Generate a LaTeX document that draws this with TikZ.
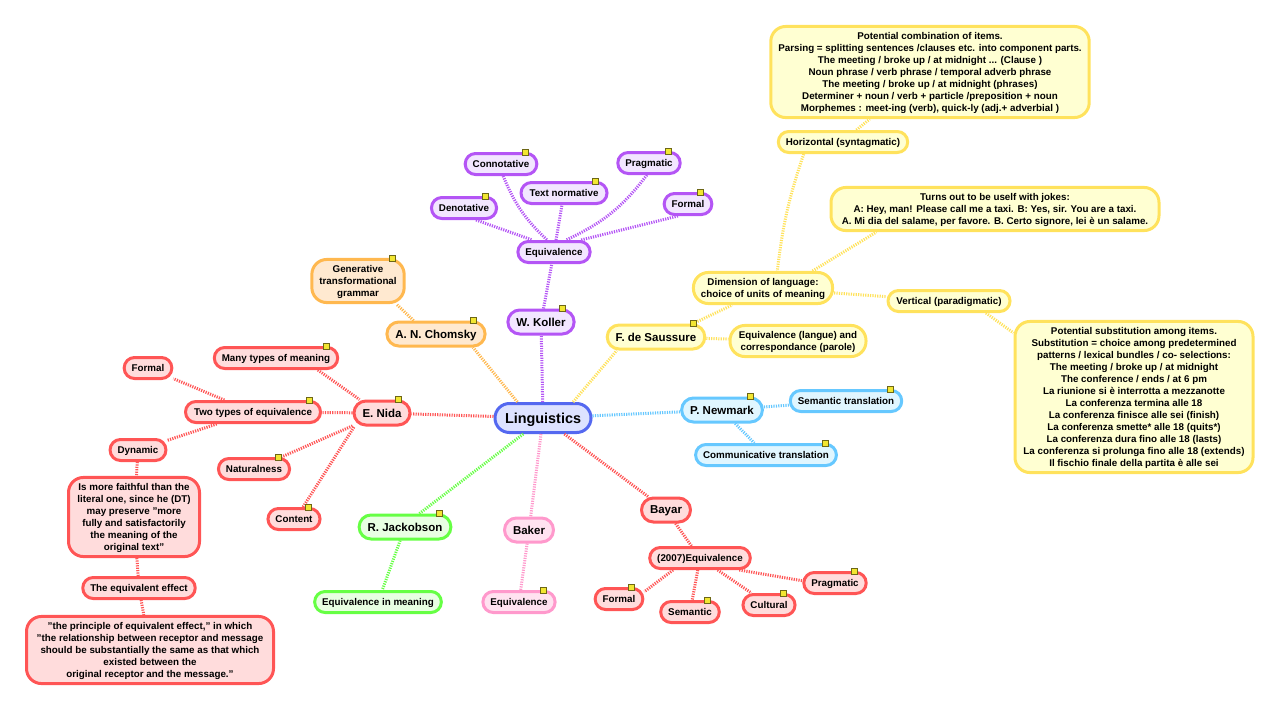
\documentclass[tikz,border=0pt]{standalone}
\usepackage{fontspec}
\setmainfont{Liberation Sans}
\usetikzlibrary{positioning}
\definecolor{rootLine}{HTML}{5468F0}
\definecolor{rootFill}{HTML}{DDE2FF}
\definecolor{kollerLine}{HTML}{B455F5}
\definecolor{kollerFill}{HTML}{F2E6FF}
\definecolor{chomskyLine}{HTML}{FFB84F}
\definecolor{chomskyFill}{HTML}{FFE9D0}
\definecolor{saussureLine}{HTML}{FFE25C}
\definecolor{saussureFill}{HTML}{FFFFD2}
\definecolor{newmarkLine}{HTML}{66C8FF}
\definecolor{newmarkFill}{HTML}{E0F6FF}
\definecolor{nidaLine}{HTML}{FF5555}
\definecolor{nidaFill}{HTML}{FFDCDC}
\definecolor{jackobsonLine}{HTML}{66FF44}
\definecolor{jackobsonFill}{HTML}{E8FFE2}
\definecolor{bakerLine}{HTML}{FF99CC}
\definecolor{bakerFill}{HTML}{FFE2F0}
\definecolor{flagFill}{HTML}{F2E632}
\tikzstyle{topic}=[
	rectangle,
	rounded corners=10.4pt,
	line width=3pt,
	text centered,
	align=center,
	text=black,
	inner xsep=7.5pt,
	inner ysep=6pt,
	minimum height=21pt,
	text depth=0pt,
	font=\bfseries\fontsize{9.8}{12}\selectfont
	]
\tikzstyle{note}=[topic, rounded corners=15pt]
\tikzstyle{major}=[topic, rounded corners=11.9pt, inner ysep=2pt, minimum height=24pt, inner xsep=8.5pt, font=\bfseries\fontsize{11.5}{13}\selectfont]
\tikzstyle{koller}=[draw=kollerLine, fill=kollerFill]
\tikzstyle{chomsky}=[draw=chomskyLine, fill=chomskyFill]
\tikzstyle{saussure}=[draw=saussureLine, fill=saussureFill]
\tikzstyle{newmark}=[draw=newmarkLine, fill=newmarkFill]
\tikzstyle{nida}=[draw=nidaLine, fill=nidaFill]
\tikzstyle{jackobson}=[draw=jackobsonLine, fill=jackobsonFill]
\tikzstyle{baker}=[draw=bakerLine, fill=bakerFill]
\tikzstyle{link}=[line width=3pt, dash pattern=on 1.2pt off 1.2pt]
\tikzstyle{flag}=[rectangle, draw=black!55!flagFill, fill=flagFill, line width=0.8pt, minimum size=6pt, inner sep=0pt]

\begin{document}
\begin{tikzpicture}[x=1pt, y=1pt, on grid]

		\useasboundingbox (0,0) rectangle (1280,-710);

		\node (Linguistics) [major, rounded corners=14.4pt, minimum height=29pt, inner xsep=10pt, draw=rootLine, fill=rootFill, font=\bfseries\fontsize{14.4}{16}\selectfont] at (543,-418) {Linguistics};

		\node (Koller) [major, koller, above left=96pt and 2pt of Linguistics] {W. Koller};
		\node (Chomsky) [major, chomsky, above left=84pt and 107pt of Linguistics] {A. N. Chomsky};
		\node (Saussure) [major, saussure, above right=81pt and 113pt of Linguistics] {F. de Saussure};
		\node (Newmark) [major, newmark, above right=8pt and 179pt of Linguistics] {P. Newmark};
		\node (Nida) [major, nida, above left=5pt and 161pt of Linguistics] {E. Nida};
		\node (Jackobson) [major, jackobson, below left=109pt and 138pt of Linguistics] {R. Jackobson};
		\node (Baker) [major, baker, below left=112pt and 14pt of Linguistics] {Baker};
		\node (Bayar) [major, nida, below right=92pt and 123pt of Linguistics] {Bayar};

		\node (KollerEquivalence) [topic, koller, above right=70pt and 13pt of Koller] {Equivalence};
		\node (Denotative) [topic, koller, above left=44pt and 90pt of KollerEquivalence] {Denotative};
		\node (Connotative) [topic, koller, above left=88pt and 53pt of KollerEquivalence] {Connotative};
		\node (TextNormative) [topic, koller, minimum width=86pt, above right=59pt and 10pt of KollerEquivalence] {Text normative};
		\node (KollerPragmatic) [topic, koller, above right=89pt and 95pt of KollerEquivalence] {Pragmatic};
		\node (KollerFormal) [topic, koller, above right=48pt and 134pt of KollerEquivalence] {Formal};

		\node (Generative) [note, chomsky, above left=53pt and 78pt of Chomsky] {Generative\\transformational\\grammar};

		\node (Dimension) [note, saussure, above right=49pt and 107pt of Saussure] {Dimension of language:\\choice of units of meaning};
		\node (Langue) [note, saussure, minimum width=136pt, below right=4pt and 142pt of Saussure] {Equivalence (langue) and\\correspondance (parole)};
		\node (Horizontal) [topic, saussure, above right=146pt and 80pt of Dimension] {Horizontal (syntagmatic)};
		\node (Jokes) [note, saussure, minimum width=328pt, above right=79pt and 232pt of Dimension] {
			Turns out to be uself with jokes:\\
			A: Hey, man! Please call me a taxi. B: Yes, sir. You are a taxi.\\
			A. Mi dia del salame, per favore. B. Certo signore, lei è un salame.
		};
		\node (Vertical) [topic, saussure, minimum width=122pt, below right=13pt and 186pt of Dimension] {Vertical (paradigmatic)};
		\node (Combination) [note, saussure, above right=70pt and 87pt of Horizontal] {
			Potential combination of items.\\
			Parsing = splitting sentences /clauses etc. into component parts.\\
			The meeting / broke up / at midnight ... (Clause )\\
			Noun phrase / verb phrase / temporal adverb phrase\\
			The meeting / broke up / at midnight (phrases)\\
			Determiner + noun / verb + particle /preposition + noun\\
			Morphemes : meet-ing (verb), quick-ly (adj.+ adverbial )
		};
		\node (Substitution) [note, saussure, minimum width=238pt, below right=96pt and 185pt of Vertical] {
			Potential substitution among items.\\
			Substitution = choice among predetermined\\
			patterns / lexical bundles / co- selections:\\
			The meeting / broke up / at midnight\\
			The conference / ends / at 6 pm\\
			La riunione si è interrotta a mezzanotte\\
			La conferenza termina alle 18\\
			La conferenza finisce alle sei (finish)\\
			La conferenza smette* alle 18 (quits*)\\
			La conferenza dura fino alle 18 (lasts)\\
			La conferenza si prolunga fino alle 18 (extends)\\
			Il fischio finale della partita è alle sei
		};

		\node (SemanticTranslation) [topic, newmark, above right=9pt and 124pt of Newmark] {Semantic translation};
		\node (CommunicativeTranslation) [topic, newmark, below right=45pt and 44pt of Newmark] {Communicative translation};

		\node (ManyTypes) [topic, nida, above left=55pt and 106pt of Nida] {Many types of meaning};
		\node (TwoTypes) [topic, nida, minimum width=135pt, above left=1pt and 129pt of Nida] {Two types of equivalence};
		\node (Naturalness) [topic, nida, below left=56pt and 128pt of Nida] {Naturalness};
		\node (Content) [topic, nida, below left=106pt and 88pt of Nida] {Content};
		\node (NidaFormal) [topic, nida, above left=44pt and 105pt of TwoTypes] {Formal};
		\node (Dynamic) [topic, nida, below left=38pt and 115pt of TwoTypes] {Dynamic};
		\node (Faithful) [note, nida, minimum width=131pt, below left=67pt and 4pt of Dynamic] {
			Is more faithful than the\\
			literal one, since he (DT)\\
			may preserve "more\\
			fully and satisfactorily\\
			the meaning of the\\
			original text"
		};
		\node (EquivalentEffect) [topic, nida, below right=71pt and 5pt of Faithful] {The equivalent effect};
		\node (Principle) [note, nida, minimum width=247pt, below right=62pt and 11pt of EquivalentEffect] {
			"the principle of equivalent effect," in which\\
			"the relationship between receptor and message\\
			should be substantially  the same as that which\\
			existed between the\\
			original receptor and the message."
		};

		\node (EquivalenceMeaning) [topic, jackobson, below left=75pt and 27pt of Jackobson] {Equivalence in meaning};
		\node (BakerEquivalence) [topic, baker, below left=72pt and 10pt of Baker] {Equivalence};

		\node (BayarEquivalence) [topic, nida, below right=48pt and 34pt of Bayar] {(2007)Equivalence};
		\node (BayarFormal) [topic, nida, below left=41pt and 81pt of BayarEquivalence] {Formal};
		\node (BayarSemantic) [topic, nida, below left=54pt and 10pt of BayarEquivalence] {Semantic};
		\node (BayarCultural) [topic, nida, below right=47pt and 69pt of BayarEquivalence] {Cultural};
		\node (BayarPragmatic) [topic, nida, below right=25pt and 135pt of BayarEquivalence] {Pragmatic};

		\foreach \parent/\child in {Linguistics/Koller, Koller/KollerEquivalence, KollerEquivalence/TextNormative}
			\draw[link, kollerLine] (\parent) -- (\child);
		\draw[link, kollerLine] (Denotative.-45) -- (KollerEquivalence.151);
		\draw[link, kollerLine] (KollerFormal.230) -- (KollerEquivalence.24);
		\draw[link, kollerLine] (Connotative.-80) to[bend right=12] (KollerEquivalence.120);
		\draw[link, kollerLine] (KollerPragmatic.-100) to[bend left=14] (KollerEquivalence.45);

		\draw[link, chomskyLine] (Linguistics.148) -- (Chomsky.-20);
		\draw[link, chomskyLine] (Chomsky.149) -- (Generative.-31);

		\draw[link, saussureLine] (Linguistics.28) -- (Saussure.199);
		\draw[link, saussureLine] (Saussure.20) -- (Dimension.209);
		\draw[link, saussureLine] (Saussure) -- (Langue);
		\draw[link, saussureLine] (Dimension.19) -- (Jokes.191);
		\draw[link, saussureLine] (Dimension) -- (Vertical);
		\draw[link, saussureLine] (Vertical.-18) -- (Substitution.152);
		\draw[link, saussureLine] (Horizontal.42) -- (Combination.218);
		\draw[link, saussureLine] (Horizontal.197) to[bend right=6] (Dimension.50);

		\foreach \parent/\child in {Linguistics/Newmark, Newmark/SemanticTranslation, Newmark/CommunicativeTranslation}
			\draw[link, newmarkLine] (\parent) -- (\child);

		\foreach \parent/\child in {Linguistics/Nida, Nida/TwoTypes, Nida/Naturalness, TwoTypes/NidaFormal, TwoTypes/Dynamic, Dynamic/Faithful, Faithful/EquivalentEffect, EquivalentEffect/Principle, Linguistics/Bayar, Bayar/BayarEquivalence, BayarEquivalence/BayarSemantic, BayarEquivalence/BayarCultural}
			\draw[link, nidaLine] (\parent) -- (\child);
		\draw[link, nidaLine] (ManyTypes.-16) -- (Nida.149);
		\draw[link, nidaLine] (Content.53) -- (Nida.206);
		\draw[link, nidaLine] (BayarEquivalence.204) -- (BayarFormal.16);
		\draw[link, nidaLine] (BayarEquivalence.-17) -- (BayarPragmatic.176);

		\draw[link, jackobsonLine] (Linguistics.219) -- (Jackobson.43);
		\draw[link, jackobsonLine] (Jackobson) -- (EquivalenceMeaning);

		\foreach \parent/\child in {Linguistics/Baker, Baker/BakerEquivalence}
			\draw[link, bakerLine] (\parent) -- (\child);

		\foreach \name in {Koller, Chomsky, Saussure, Newmark, Nida, Jackobson, Denotative, Connotative, TextNormative, KollerPragmatic, KollerFormal, Generative, SemanticTranslation, CommunicativeTranslation, ManyTypes, TwoTypes, Naturalness, Content, BakerEquivalence, BayarFormal, BayarSemantic, BayarCultural, BayarPragmatic}
			\node (\name Flag) [flag] at ([xshift=-13pt]\name.north east) {};

	\end{tikzpicture}
\end{document}
